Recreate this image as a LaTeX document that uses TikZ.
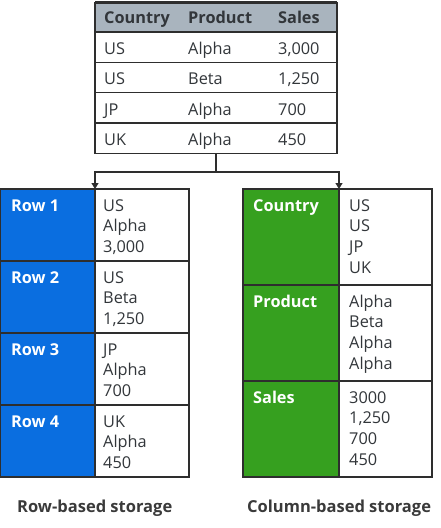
\documentclass[tikz,border=0pt]{standalone}
\usepackage{fontspec}
\setmainfont{Open Sans}
\usetikzlibrary{arrows.meta}
\definecolor{linec}{HTML}{2E2E2E}
\definecolor{headg}{HTML}{A9B4BE}
\definecolor{rowblue}{HTML}{0A6EE0}
\definecolor{colgreen}{HTML}{36A01F}
\definecolor{txtc}{HTML}{32363A}
\definecolor{capc}{HTML}{3A3A3A}
\newcommand\cellstack[1]{\begin{tabular}[t]{@{}l@{}}#1\end{tabular}}
\begin{document}
\begin{tikzpicture}[x=1pt,y=-1pt,
  font=\fontsize{16.3}{20.7}\selectfont,
  box/.style={draw=linec,line width=1.4pt,anchor=north west,inner sep=0pt,outer sep=0pt},
  txt/.style={anchor=base west,inner sep=0pt,text=txtc},
  htxt/.style={anchor=base west,inner sep=0pt,text=txtc,font=\fontsize{16.3}{20.7}\selectfont\bfseries},
  lbl/.style={anchor=base west,inner sep=0pt,text=white,font=\fontsize{16.3}{20.7}\selectfont\bfseries},
  captxt/.style={anchor=base west,inner sep=0pt,text=capc,font=\fontsize{16.5}{20.7}\selectfont\bfseries},
  conn/.style={draw=linec,line width=1.2pt},
  arr/.style={draw=linec,line width=1.2pt,-{Triangle[length=6pt,width=7pt]}}]
\useasboundingbox (0,0) rectangle (440,528);
% top table
\node[box,fill=headg,minimum width=242pt,minimum height=29.5pt] (hdr) at (95,2.5) {};
\node[box,minimum width=242pt,minimum height=30.3pt] (r1) at (95,32) {};
\node[box,minimum width=242pt,minimum height=30.3pt] (r2) at (95,62.3) {};
\node[box,minimum width=242pt,minimum height=30.3pt] (r3) at (95,92.6) {};
\node[box,minimum width=242pt,minimum height=30.3pt] (r4) at (95,122.9) {};
\draw[linec,line width=3pt] (hdr.north west) -- (hdr.north east);
\node[htxt] (hc) at (104,23) {Country};
\node[htxt] (hp) at (188,23) {Product};
\node[htxt] (hs) at (278,23) {Sales};
\node[txt] (a1) at (104,54.5) {US};
\node[txt] (b1) at (188,54.5) {Alpha};
\node[txt] (c1) at (278,54.5) {3,000};
\node[txt] (a2) at (104,84.8) {US};
\node[txt] (b2) at (188,84.8) {Beta};
\node[txt] (c2) at (278,84.8) {1,250};
\node[txt] (a3) at (104,115.1) {JP};
\node[txt] (b3) at (188,115.1) {Alpha};
\node[txt] (c3) at (278,115.1) {700};
\node[txt] (a4) at (104,145.4) {UK};
\node[txt] (b4) at (188,145.4) {Alpha};
\node[txt] (c4) at (278,145.4) {450};
% row-based block
\node[box,fill=rowblue,minimum width=95pt,minimum height=72pt] (rb1) at (0,189) {};
\node[box,minimum width=94pt,minimum height=72pt] (rv1) at (95,189) {};
\node[box,fill=rowblue,minimum width=95pt,minimum height=72pt] (rb2) at (0,261) {};
\node[box,minimum width=94pt,minimum height=72pt] (rv2) at (95,261) {};
\node[box,fill=rowblue,minimum width=95pt,minimum height=72pt] (rb3) at (0,333) {};
\node[box,minimum width=94pt,minimum height=72pt] (rv3) at (95,333) {};
\node[box,fill=rowblue,minimum width=95pt,minimum height=72pt] (rb4) at (0,405) {};
\node[box,minimum width=94pt,minimum height=72pt] (rv4) at (95,405) {};
\node[lbl] (rl1) at (11,211) {Row 1};
\node[lbl] (rl2) at (11,283) {Row 2};
\node[lbl] (rl3) at (11,355) {Row 3};
\node[lbl] (rl4) at (11,427) {Row 4};
\node[txt] (rt1) at (103,211) {\cellstack{US\\Alpha\\3,000}};
\node[txt] (rt2) at (103,283) {\cellstack{US\\Beta\\1,250}};
\node[txt] (rt3) at (103,355) {\cellstack{JP\\Alpha\\700}};
\node[txt] (rt4) at (103,427) {\cellstack{UK\\Alpha\\450}};
% column-based block
\node[box,fill=colgreen,minimum width=96pt,minimum height=96pt] (cb1) at (243,189) {};
\node[box,minimum width=93pt,minimum height=96pt] (cv1) at (339,189) {};
\node[box,fill=colgreen,minimum width=96pt,minimum height=96pt] (cb2) at (243,285) {};
\node[box,minimum width=93pt,minimum height=96pt] (cv2) at (339,285) {};
\node[box,fill=colgreen,minimum width=96pt,minimum height=96pt] (cb3) at (243,381) {};
\node[box,minimum width=93pt,minimum height=96pt] (cv3) at (339,381) {};
\node[lbl] (cl1) at (253,211) {Country};
\node[lbl] (cl2) at (253,307) {Product};
\node[lbl] (cl3) at (253,403) {Sales};
\node[txt] (ct1) at (349,211) {\cellstack{US\\US\\JP\\UK}};
\node[txt] (ct2) at (349,307) {\cellstack{Alpha\\Beta\\Alpha\\Alpha}};
\node[txt] (ct3) at (349,403) {\cellstack{3000\\1,250\\700\\450}};
% captions
\node[captxt] (cap1) at (17,512.5) {Row-based storage};
\node[captxt] (cap2) at (247,512.5) {Column-based storage};
% connectors
\coordinate (j) at (216,172);
\draw[conn] (r4.south) -- (j);
\draw[arr] (j) -| (rv1.north west);
\draw[arr] (j) -| (cv1.north west);
\end{tikzpicture}
\end{document}
